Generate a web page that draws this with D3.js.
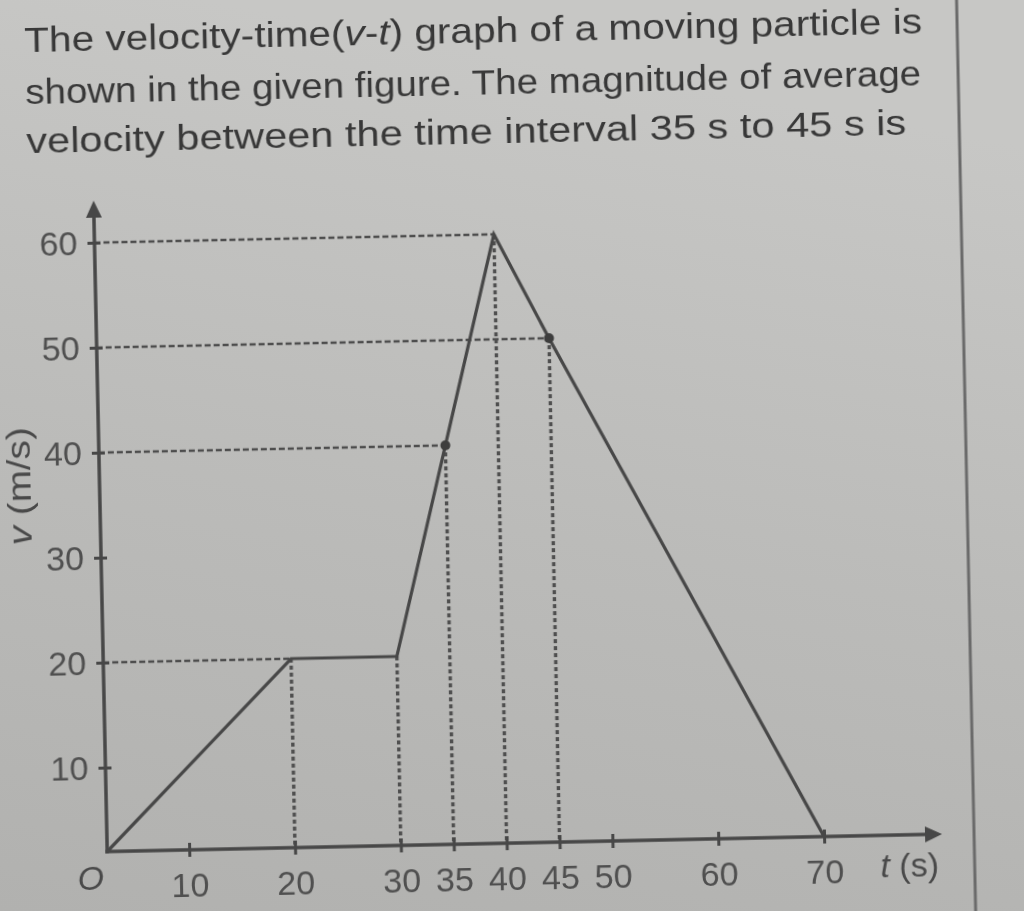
<!DOCTYPE html>
<html>
<head>
<meta charset="utf-8">
<script src="https://cdn.jsdelivr.net/npm/d3@7"></script>
<style>
  html, body { margin: 0; padding: 0; background: #bcbcba; }
  svg { display: block; }
</style>
</head>
<body>
<script>
// ---- data ----
const titleLines = [
  "The velocity-time(v-t) graph of a moving particle is",
  "shown in the given figure. The magnitude of average",
  "velocity between the time interval 35 s to 45 s is"
];
const timeS = [0, 20, 30, 35, 40, 45, 70];
const velocity = [0, 20, 20, 40, 60, 50, 0];
const markedTimes = [35, 45];
const markedVel = [40, 50];
const hGuideTimes = [20, 35, 40, 45];      // horizontal dashed from v-axis
const hGuideVel = [20, 40, 60, 50];
const vGuideTimes = [20, 30, 35, 40, 45];  // vertical dashed to t-axis
const vGuideVel = [20, 20, 40, 60, 50];
const xTicks = [10, 20, 30, 35, 40, 45, 50, 60, 70];
const yTicks = [10, 20, 30, 40, 50, 60];
const xLabel = "t (s)";
const yLabel = "v (m/s)";

const W = 1024, H = 911;
const svg = d3.select("body").append("svg").attr("width", W).attr("height", H);
const defs = svg.append("defs");
const grad = defs.append("linearGradient").attr("id", "paper")
  .attr("x1", "0.2").attr("y1", "0").attr("x2", "0").attr("y2", "1");
grad.append("stop").attr("offset", "0").attr("stop-color", "#c7c7c5");
grad.append("stop").attr("offset", "0.5").attr("stop-color", "#bbbbb9");
grad.append("stop").attr("offset", "1").attr("stop-color", "#b1b1af");
defs.append("filter").attr("id", "soft").append("feGaussianBlur").attr("stdDeviation", 0.7);

svg.append("rect").attr("width", W).attr("height", H).attr("fill", "url(#paper)");

const g = svg.append("g").attr("transform", "rotate(-1.2,512,455)").attr("filter", "url(#soft)");

// scales (figure is not to scale near origin: piecewise linear)
const x = d3.scaleLinear().domain([0, 10, 70]).range([99, 181, 816]);
const y = d3.scaleLinear().domain([0, 10, 60]).range([843, 759, 234]);

const ink = "#474747";
const font = "'Liberation Sans', Arial, sans-serif";

// title text
const titleBase = [42, 94, 143];
const titleLen = [898, 896, 880];
titleLines.forEach((t, i) => {
  const tx = g.append("text").attr("x", 33).attr("y", titleBase[i])
    .attr("font-family", font).attr("font-size", 35).attr("fill", "#383838")
    .attr("textLength", titleLen[i]).attr("lengthAdjust", "spacingAndGlyphs");
  if (i === 0) {
    tx.append("tspan").text("The velocity-time(");
    tx.append("tspan").attr("font-style", "italic").text("v");
    tx.append("tspan").text("-");
    tx.append("tspan").attr("font-style", "italic").text("t");
    tx.append("tspan").text(") graph of a moving particle is");
  } else {
    tx.text(t);
  }
});

// page border line at right
g.append("line").attr("x1", 966).attr("x2", 966).attr("y1", -20).attr("y2", 930)
  .attr("stroke", "#6b6b6b").attr("stroke-width", 3);

// dashed guides
g.selectAll("line.hg").data(hGuideTimes).join("line").attr("class", "hg")
  .attr("x1", x(0)).attr("x2", d => x(d))
  .attr("y1", (d, i) => y(hGuideVel[i])).attr("y2", (d, i) => y(hGuideVel[i]))
  .attr("stroke", "#4e4e4e").attr("stroke-width", 2.5).attr("stroke-dasharray", "6,3");
g.selectAll("line.vg").data(vGuideTimes).join("line").attr("class", "vg")
  .attr("x1", d => x(d)).attr("x2", d => x(d))
  .attr("y1", (d, i) => y(vGuideVel[i])).attr("y2", y(0))
  .attr("stroke", "#505050").attr("stroke-width", 3.4).attr("stroke-dasharray", "4,3");

// axes
const yAxis = g.append("g").attr("transform", `translate(${x(0)},0)`)
  .call(d3.axisLeft(y).tickValues(yTicks).tickSize(7).tickPadding(10));
yAxis.select(".domain").remove();
yAxis.selectAll(".tick line").attr("x1", 6).attr("stroke", ink).attr("stroke-width", 3);
yAxis.selectAll(".tick text").attr("font-family", font).attr("font-size", 33)
  .attr("fill", "#505050").attr("dy", "0.36em")
  .attr("textLength", 38).attr("lengthAdjust", "spacingAndGlyphs");

const xAxis = g.append("g").attr("transform", `translate(0,${y(0)})`)
  .call(d3.axisBottom(x).tickValues(xTicks).tickSize(7).tickPadding(17));
xAxis.select(".domain").remove();
xAxis.selectAll(".tick line").attr("y1", -7).attr("stroke", ink).attr("stroke-width", 3);
xAxis.selectAll(".tick text").attr("font-family", font).attr("font-size", 33)
  .attr("fill", "#505050")
  .attr("textLength", 38).attr("lengthAdjust", "spacingAndGlyphs");

// axis lines with arrows
const yTop = 192, xRight = 934;
g.append("line").attr("x1", x(0)).attr("x2", x(0)).attr("y1", y(0) + 2).attr("y2", yTop + 12)
  .attr("stroke", ink).attr("stroke-width", 3.5);
g.append("path").attr("d", `M${x(0)},${yTop} L${x(0) - 8},${yTop + 17} L${x(0) + 8},${yTop + 17} Z`)
  .attr("fill", ink);
g.append("line").attr("x1", x(0) - 2).attr("x2", xRight - 12).attr("y1", y(0)).attr("y2", y(0))
  .attr("stroke", ink).attr("stroke-width", 3.5);
g.append("path").attr("d", `M${xRight},${y(0)} L${xRight - 17},${y(0) - 8} L${xRight - 17},${y(0) + 8} Z`)
  .attr("fill", ink);

// main v-t line
const pts = timeS.map((t, i) => [t, velocity[i]]);
g.append("path").datum(pts)
  .attr("d", d3.line().x(d => x(d[0])).y(d => y(d[1])))
  .attr("fill", "none").attr("stroke", ink).attr("stroke-width", 3.2)
  .attr("stroke-linejoin", "miter");

// marked points
g.selectAll("circle.pt").data(markedTimes).join("circle").attr("class", "pt")
  .attr("cx", d => x(d)).attr("cy", (d, i) => y(markedVel[i])).attr("r", 5)
  .attr("fill", "#3c3c3c");

// labels
g.append("text").attr("x", 82).attr("y", 881).attr("text-anchor", "middle")
  .attr("font-family", font).attr("font-size", 34).attr("fill", "#4a4a4a")
  .attr("font-style", "italic").text("O");

const tl = g.append("text").attr("x", 901).attr("y", 885).attr("text-anchor", "middle")
  .attr("font-family", font).attr("font-size", 34).attr("fill", "#4a4a4a");
tl.append("tspan").attr("font-style", "italic").text(xLabel.split(" ")[0]);
tl.append("tspan").text(" " + xLabel.split(" ")[1]);

const yl = g.append("text").attr("transform", "translate(30,476) rotate(-90)")
  .attr("text-anchor", "middle").attr("font-family", font).attr("font-size", 33)
  .attr("fill", "#4a4a4a").attr("textLength", 118).attr("lengthAdjust", "spacingAndGlyphs");
yl.append("tspan").attr("font-style", "italic").text(yLabel.split(" ")[0]);
yl.append("tspan").text(" " + yLabel.split(" ")[1]);
</script>
</body>
</html>
